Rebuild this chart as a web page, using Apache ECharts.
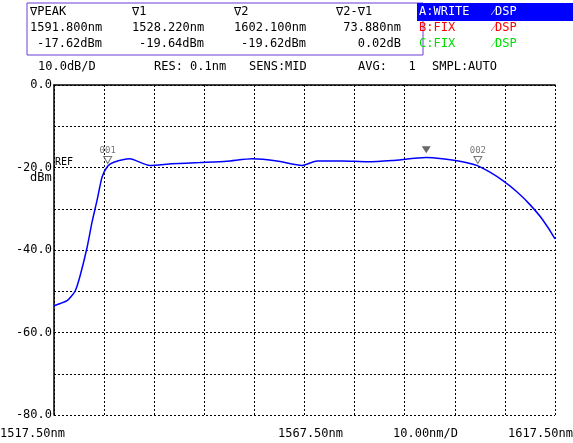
<!DOCTYPE html>
<html><head><meta charset="utf-8">
<script src="https://cdn.jsdelivr.net/npm/echarts@6/dist/echarts.min.js"></script>
<style>html,body{margin:0;padding:0;background:#fff}#c{width:573px;height:443px}</style>
</head><body><div id="c"></div>
<script>
// trace A
const wavelengths = [1517.5, 1520.1, 1521.7, 1522.7, 1524.1, 1525.1, 1526.1, 1527.1, 1528.2, 1529.3,
  1532.6, 1536.6, 1541.0, 1546.6, 1552.0, 1557.0, 1562.0, 1567.0, 1570.0, 1575.0, 1580.0, 1585.0,
  1591.8, 1595.0, 1599.0, 1602.1, 1604.6, 1607.1, 1610.0, 1612.5, 1615.0, 1617.5];
const levels = [-53.5, -52.3, -50.0, -46.3, -39.4, -33.2, -27.9, -22.3, -19.7, -18.8,
  -17.9, -19.5, -19.1, -18.8, -18.5, -17.9, -18.4, -19.5, -18.4, -18.4, -18.6, -18.3,
  -17.6, -17.9, -18.6, -19.6, -21.2, -23.2, -26.0, -29.0, -32.6, -37.3];
const markers = [[1528.22, -19.64, "001"], [1602.10, -19.62, "002"]];
const peak = [1591.80, -17.62];
const yTicks = [0, -20, -40, -60, -80];

const mono = "DejaVu Sans Mono";
const T = (x, y, s, fill, opts) => ({ type: "text", x, y, style: Object.assign({ text: s, fill: fill || "#000", font: "12px " + mono }, opts || {}) });

const chart = echarts.init(document.getElementById("c"));
chart.setOption({
  animation: false,
  backgroundColor: "#fff",
  grid: { left: 54, right: 18, top: 85, bottom: 28 },
  xAxis: {
    type: "value", min: 1517.5, max: 1617.5, interval: 10,
    axisLine: { show: true, lineStyle: { color: "#000", width: 1.5 } },
    axisTick: { show: false }, axisLabel: { show: false },
    splitLine: { show: true, lineStyle: { color: "#000", type: [2, 2] } }
  },
  yAxis: {
    type: "value", min: -80, max: 0, interval: 10,
    axisLine: { show: true, lineStyle: { color: "#000", width: 1.5 } },
    axisTick: { show: false },
    axisLabel: {
      fontFamily: mono, fontSize: 12, color: "#000", margin: 2,
      formatter: v => yTicks.includes(v) ? v.toFixed(1) : ""
    },
    splitLine: { show: true, lineStyle: { color: "#000", type: [2, 2] } }
  },
  series: [
    { type: "line", data: wavelengths.map((w, i) => [w, levels[i]]), smooth: 0.2, symbol: "none",
      lineStyle: { color: "#0000ff", width: 1.5 } },
    { type: "scatter", data: markers.map(m => [m[0], m[1]]), symbol: "triangle", symbolRotate: 180,
      symbolSize: [8, 7], symbolOffset: [0, -6],
      itemStyle: { color: "#fff", borderColor: "#555", borderWidth: 1 },
      label: { show: true, position: "top", distance: 1, formatter: p => markers[p.dataIndex][2],
        fontFamily: mono, fontSize: 9, color: "#555" } },
    { type: "scatter", data: [peak], symbol: "triangle", symbolRotate: 180, symbolSize: [9, 7],
      symbolOffset: [0, -8], itemStyle: { color: "#444" } }
  ],
  graphic: [
    { type: "rect", shape: { x: 27, y: 3, width: 396, height: 52 }, style: { fill: "none", stroke: "#6a3cd8", lineWidth: 1 } },
    T(30, 6, "∇PEAK"), T(132, 6, "∇1"), T(234, 6, "∇2"), T(336, 6, "∇2-∇1"),
    T(30, 22, "1591.800nm"), T(132, 22, "1528.220nm"), T(234, 22, "1602.100nm"), T(401, 22, "73.880nm", null, { align: "right" }),
    T(37, 38, "-17.62dBm"), T(139, 38, "-19.64dBm"), T(241, 38, "-19.62dBm"), T(401, 38, "0.02dB", null, { align: "right" }),
    { type: "rect", shape: { x: 417, y: 3, width: 156, height: 18 }, style: { fill: "#0000ff" } },
    T(419, 6, "A:WRITE", "#fff"), T(493, 6, "⁄DSP", "#fff"),
    T(419, 22, "B:FIX", "#ff0000"), T(493, 22, "⁄DSP", "#ff0000"),
    T(419, 38, "C:FIX", "#00dd00"), T(493, 38, "⁄DSP", "#00dd00"),
    T(38, 61, "10.0dB/D"), T(154, 61, "RES: 0.1nm"), T(249, 61, "SENS:MID"), T(358, 61, "AVG:   1"), T(432, 61, "SMPL:AUTO"),
    T(55, 157, "REF", null, { font: "10px " + mono }),
    T(30, 172, "dBm", null, { font: "12px " + mono }),
    T(0, 428, "1517.50nm"), T(278, 428, "1567.50nm"), T(393, 428, "10.00nm/D"), T(573, 428, "1617.50nm", null, { align: "right" })
  ]
});
</script></body></html>
